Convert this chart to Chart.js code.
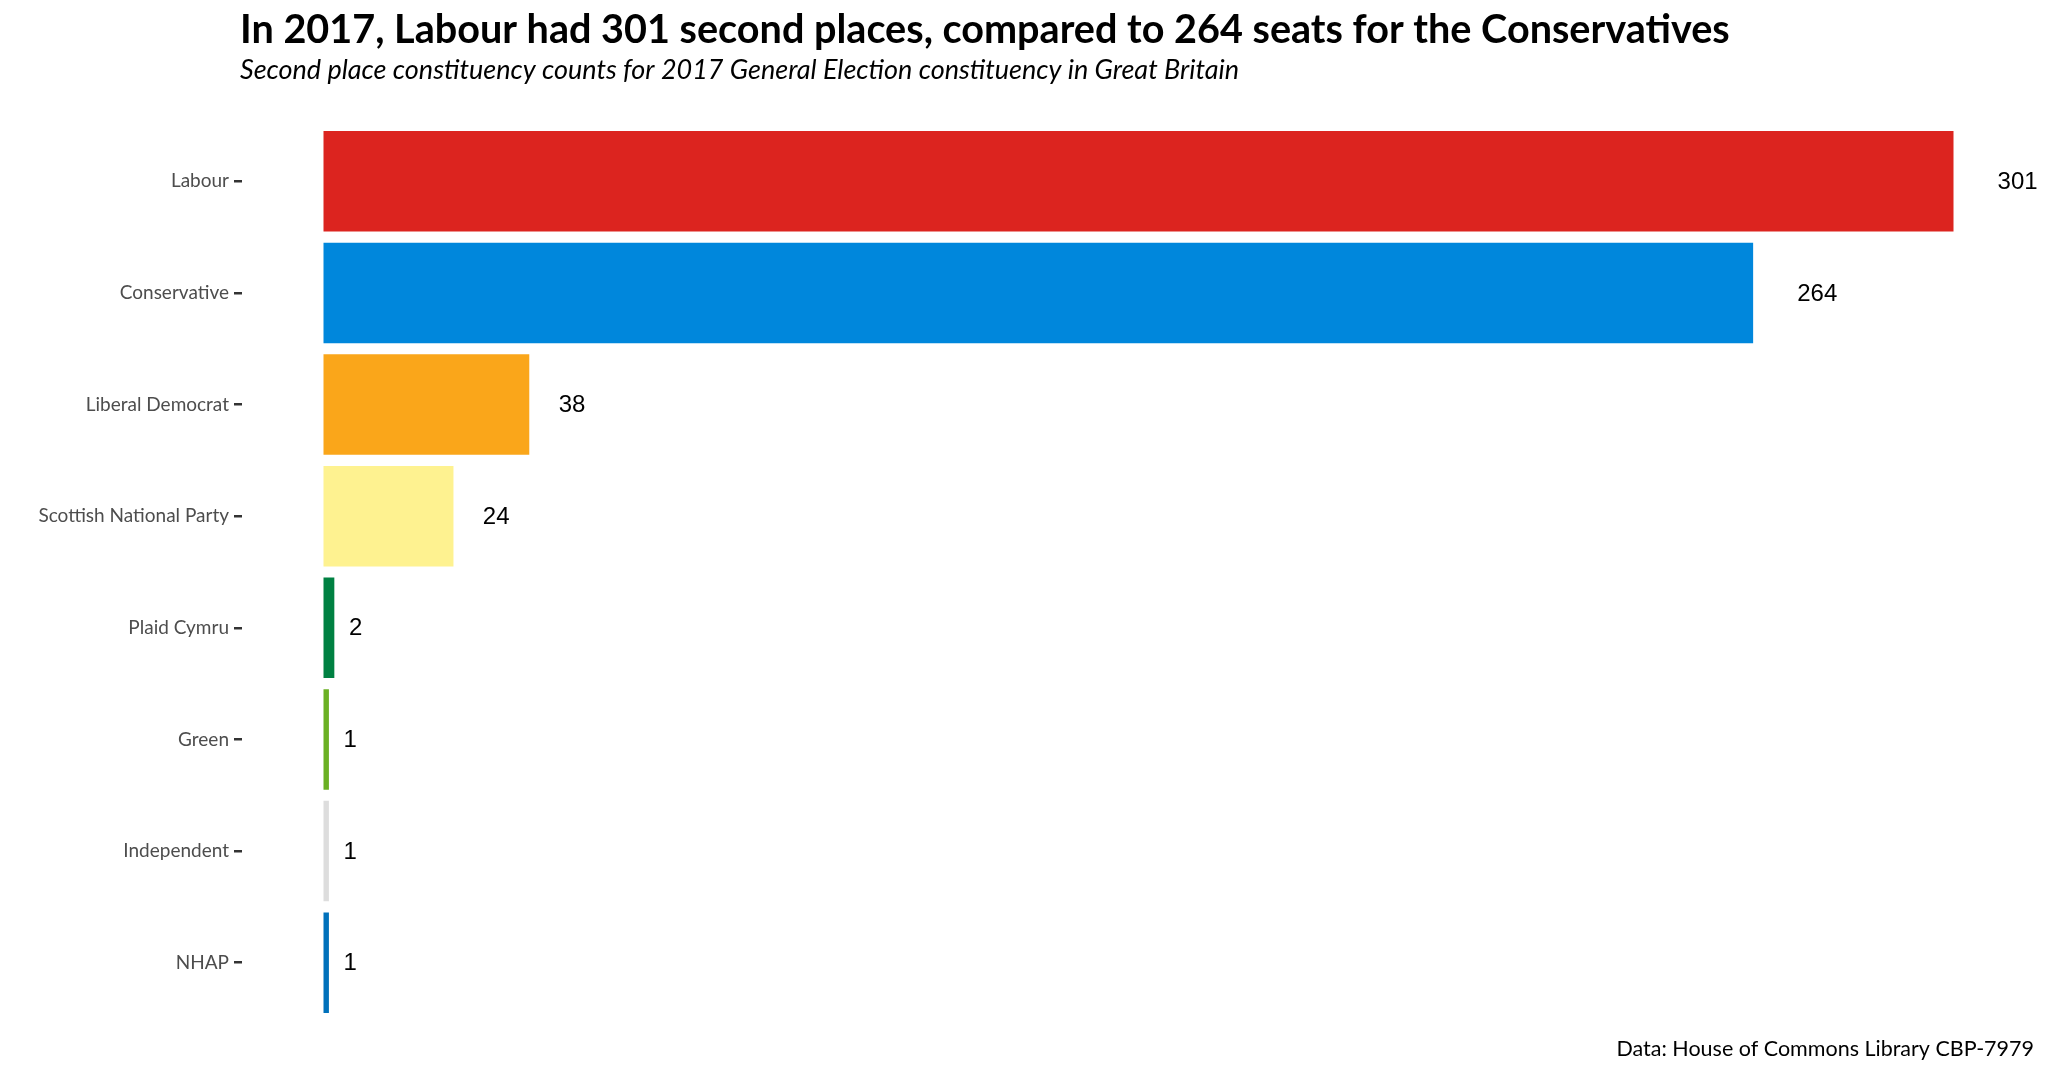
<!DOCTYPE html>
<html>
<head>
<meta charset="utf-8">
<title>Second places 2017</title>
<script src="https://cdn.jsdelivr.net/npm/chart.js@4.4.1/dist/chart.umd.min.js"></script>
<style>
    html, body { margin: 0; padding: 0; background: #ffffff; }
    #wrap { position: relative; width: 2048px; height: 1073px; }
</style>
</head>
<body>
<div id="wrap"><canvas id="chart" width="2048" height="1073"></canvas></div>
<script>
// Second place counts, 2017 General Election
const parties = ['Labour', 'Conservative', 'Liberal Democrat', 'Scottish National Party',
    'Plaid Cymru', 'Green', 'Independent', 'NHAP'];
const secondPlaces = [301, 264, 38, 24, 2, 1, 1, 1];
const partyColours = ['#DC241F', '#0087DC', '#FAA61A', '#FEF290',
    '#008142', '#6AB023', '#DDDDDD', '#0071BB'];

const titleText = 'In 2017, Labour had 301 second places, compared to 264 seats for the Conservatives';
const subtitleText = 'Second place constituency counts for 2017 General Election constituency in Great Britain';
const captionText = 'Data: House of Commons Library CBP-7979';

// ggplot style 5% expansion on the value axis
const maxValue = Math.max(...secondPlaces);
const pad = maxValue * 0.05;

// title, subtitle and caption drawn at fixed spots
const headerPlugin = {
    id: 'header',
    afterDraw(chart) {
        const ctx = chart.ctx;
        ctx.save();
        ctx.fillStyle = '#000000';
        ctx.textBaseline = 'alphabetic';
        ctx.textAlign = 'left';
        ctx.font = 'bold 39.6px Lato';
        ctx.fillText(titleText, 240, 43);
        ctx.font = 'italic 27px Lato';
        ctx.fillText(subtitleText, 240, 79);
        ctx.textAlign = 'right';
        ctx.font = '21.5px Lato';
        ctx.fillText(captionText, 2034, 1056);
        ctx.restore();
    }
};

// value labels to the right of each bar (hjust about -1.1)
const valueLabels = {
    id: 'valueLabels',
    afterDatasetsDraw(chart) {
        const ctx = chart.ctx;
        const meta = chart.getDatasetMeta(0);
        ctx.save();
        ctx.font = '24px "Liberation Sans", Arial, sans-serif';
        ctx.fillStyle = '#000000';
        ctx.textAlign = 'left';
        ctx.textBaseline = 'middle';
        meta.data.forEach(function(bar, i) {
            const txt = String(secondPlaces[i]);
            const w = ctx.measureText(txt).width;
            ctx.fillText(txt, bar.x + w * 1.1, bar.y + 1);
        });
        ctx.restore();
    }
};

const ctx = document.getElementById('chart').getContext('2d');
new Chart(ctx, {
    type: 'bar',
    data: {
        labels: parties,
        datasets: [{
            data: secondPlaces,
            backgroundColor: partyColours,
            borderWidth: 0,
            barPercentage: 0.9,
            categoryPercentage: 1.0
        }]
    },
    options: {
        indexAxis: 'y',
        responsive: false,
        animation: false,
        devicePixelRatio: 1,
        layout: {
            padding: { top: 125.5, bottom: 54.5, right: 13, left: 0 }
        },
        plugins: {
            legend: { display: false },
            tooltip: { enabled: false }
        },
        scales: {
            x: {
                display: false,
                min: -pad,
                max: maxValue + pad
            },
            y: {
                afterFit: function(scale) { scale.width = 242; },
                border: { display: false },
                grid: {
                    offset: false,
                    drawOnChartArea: false,
                    drawTicks: true,
                    tickLength: 8,
                    tickColor: '#333333',
                    lineWidth: 2.5
                },
                ticks: {
                    padding: 5,
                    color: '#4d4d4d',
                    font: { family: 'Lato', size: 19 }
                }
            }
        }
    },
    plugins: [headerPlugin, valueLabels]
});
</script>
</body>
</html>
